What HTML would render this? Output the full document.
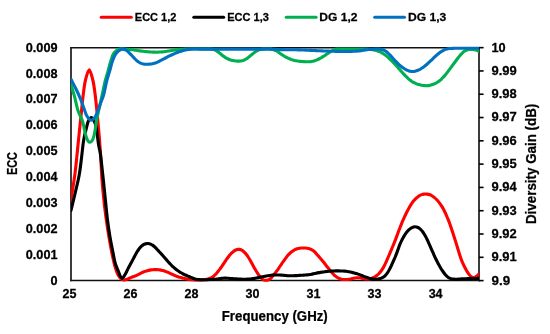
<!DOCTYPE html>
<html><head><meta charset="utf-8"><style>
html,body{margin:0;padding:0;background:#fff;}
svg{display:block;}
.t{font-family:'Liberation Sans',sans-serif;font-weight:bold;stroke:#000;stroke-width:0.25px;font-size:12px;fill:#000;}
.lg{font-family:'Liberation Sans',sans-serif;font-weight:bold;stroke:#000;stroke-width:0.25px;font-size:11.6px;fill:#000;}
.ti{font-family:'Liberation Sans',sans-serif;font-weight:bold;stroke:#000;stroke-width:0.25px;font-size:13.8px;fill:#000;}
</style></head><body>
<svg width="550" height="334" viewBox="0 0 550 334">
<rect width="550" height="334" fill="#fff"/>
<defs><clipPath id="pa"><rect x="71" y="45" width="408" height="238"/></clipPath></defs>
<path d="M70.15,47.65 H479.85 M70.15,280.6 H479.85" stroke="#111" stroke-width="1.5" fill="none"/>
<path d="M71,46.9 V281.35 M479,46.9 V281.35" stroke="#1a1a1a" stroke-width="1.7" fill="none"/>
<g clip-path="url(#pa)">
<path d="M71.00,199.50 C72.27,191.33 73.64,183.91 74.80,175.00 C76.18,164.39 77.35,151.02 78.50,140.00 C79.53,130.15 80.54,120.17 81.40,112.00 C82.07,105.63 82.49,100.48 83.20,95.00 C83.87,89.84 84.36,84.47 85.50,80.00 C86.47,76.22 87.98,69.79 89.20,69.80 C90.42,69.81 91.84,76.23 92.80,80.00 C93.94,84.47 94.51,89.83 95.20,95.00 C95.93,100.48 96.40,105.90 97.00,112.00 C97.70,119.09 98.48,127.60 99.10,135.00 C99.67,141.90 100.14,147.96 100.60,155.00 C101.12,162.87 101.37,171.67 102.00,180.00 C102.63,188.34 103.46,196.85 104.40,205.00 C105.30,212.84 106.47,221.16 107.50,228.00 C108.33,233.54 109.14,238.18 110.00,243.00 C110.81,247.49 111.62,251.91 112.50,256.00 C113.29,259.70 113.99,263.18 115.00,266.50 C115.94,269.59 117.00,273.02 118.30,275.30 C119.26,276.99 120.37,278.59 121.50,279.30 C122.30,279.81 123.27,279.84 124.00,279.89 C124.56,279.92 125.01,279.83 125.50,279.73 C126.01,279.62 126.50,279.43 127.00,279.25 C127.50,279.07 128.00,278.84 128.50,278.63 C129.00,278.41 129.50,278.19 130.00,277.98 C130.50,277.77 131.00,277.56 131.50,277.36 C132.00,277.16 132.50,276.97 133.00,276.78 C133.50,276.58 134.00,276.39 134.50,276.19 C135.00,275.98 135.50,275.78 136.00,275.56 C136.50,275.35 137.00,275.12 137.50,274.89 C138.00,274.65 138.50,274.40 139.00,274.16 C139.50,273.91 140.00,273.65 140.50,273.40 C141.00,273.15 141.50,272.90 142.00,272.67 C142.50,272.44 143.00,272.22 143.50,272.01 C144.00,271.80 144.50,271.61 145.00,271.42 C145.50,271.24 146.00,271.06 146.50,270.90 C147.00,270.75 147.50,270.60 148.00,270.47 C148.50,270.34 149.00,270.22 149.50,270.13 C150.00,270.03 150.50,269.95 151.00,269.89 C151.50,269.82 152.00,269.77 152.50,269.73 C153.00,269.69 153.50,269.67 154.00,269.65 C154.50,269.63 155.00,269.62 155.50,269.62 C156.00,269.62 156.50,269.62 157.00,269.64 C157.50,269.66 158.00,269.69 158.50,269.74 C159.00,269.78 159.50,269.84 160.00,269.91 C160.50,269.99 161.00,270.08 161.50,270.19 C162.00,270.30 162.50,270.43 163.00,270.57 C163.50,270.71 164.00,270.87 164.50,271.03 C165.00,271.20 165.50,271.38 166.00,271.58 C166.50,271.77 167.00,271.98 167.50,272.19 C168.00,272.41 168.50,272.64 169.00,272.87 C169.50,273.10 170.00,273.34 170.50,273.57 C171.00,273.81 171.50,274.04 172.00,274.27 C172.50,274.50 173.00,274.73 173.50,274.96 C174.00,275.18 174.50,275.40 175.00,275.61 C175.50,275.81 176.00,276.01 176.50,276.20 C177.00,276.38 177.50,276.55 178.00,276.71 C178.50,276.87 179.00,277.02 179.50,277.17 C180.00,277.31 180.50,277.45 181.00,277.59 C181.50,277.72 182.00,277.85 182.50,277.98 C183.00,278.11 183.50,278.23 184.00,278.35 C184.50,278.47 185.00,278.58 185.50,278.68 C186.00,278.79 186.50,278.88 187.00,278.98 C187.50,279.07 188.00,279.16 188.50,279.24 C189.00,279.32 189.50,279.39 190.00,279.46 C190.50,279.52 191.00,279.58 191.50,279.63 C192.00,279.68 192.50,279.72 193.00,279.76 C193.50,279.79 194.00,279.82 194.50,279.85 C195.00,279.87 195.50,279.89 196.00,279.90 C196.50,279.92 197.00,279.93 197.50,279.93 C198.00,279.93 198.50,279.94 199.00,279.93 C199.50,279.93 200.00,279.92 200.50,279.91 C201.00,279.89 201.50,279.88 202.00,279.85 C202.50,279.83 203.00,279.81 203.50,279.77 C204.00,279.73 204.50,279.68 205.00,279.61 C205.50,279.55 206.00,279.46 206.50,279.36 C207.00,279.25 207.50,279.13 208.00,278.99 C208.50,278.84 209.00,278.68 209.50,278.49 C210.00,278.30 210.51,278.09 211.00,277.84 C211.51,277.58 212.01,277.29 212.50,276.96 C213.01,276.62 213.51,276.23 214.00,275.80 C214.51,275.36 215.01,274.86 215.50,274.35 C216.01,273.82 216.51,273.25 217.00,272.67 C217.51,272.08 218.00,271.47 218.50,270.85 C219.01,270.22 219.51,269.58 220.00,268.91 C220.51,268.24 221.00,267.54 221.50,266.84 C222.00,266.13 222.50,265.40 223.00,264.66 C223.50,263.92 224.00,263.16 224.50,262.41 C225.00,261.65 225.50,260.89 226.00,260.15 C226.50,259.43 226.99,258.71 227.50,258.02 C227.99,257.34 228.49,256.67 229.00,256.04 C229.49,255.42 229.99,254.82 230.50,254.26 C230.99,253.72 231.49,253.20 232.00,252.72 C232.49,252.26 232.99,251.82 233.50,251.43 C233.99,251.05 234.49,250.70 235.00,250.41 C235.49,250.14 235.99,249.90 236.50,249.72 C236.99,249.55 237.50,249.43 238.00,249.37 C238.50,249.32 239.00,249.32 239.50,249.39 C240.00,249.46 240.51,249.61 241.00,249.80 C241.51,250.00 242.01,250.28 242.50,250.60 C243.02,250.94 243.52,251.34 244.00,251.79 C244.52,252.26 245.01,252.80 245.50,253.37 C246.01,253.96 246.51,254.61 247.00,255.28 C247.51,255.98 248.01,256.71 248.50,257.48 C249.01,258.27 249.51,259.11 250.00,259.96 C250.51,260.84 251.00,261.76 251.50,262.66 C252.00,263.58 252.50,264.51 253.00,265.43 C253.50,266.34 254.00,267.25 254.50,268.14 C255.00,269.02 255.49,269.89 256.00,270.74 C256.49,271.57 256.99,272.40 257.50,273.19 C257.99,273.96 258.49,274.72 259.00,275.42 C259.49,276.10 259.98,276.76 260.50,277.34 C260.98,277.89 261.48,278.43 262.00,278.85 C262.48,279.24 262.98,279.58 263.50,279.82 C263.98,280.04 264.49,280.17 265.00,280.25 C265.50,280.32 266.00,280.32 266.50,280.28 C267.00,280.24 267.51,280.14 268.00,279.98 C268.51,279.82 269.02,279.58 269.50,279.28 C270.02,278.95 270.52,278.50 271.00,278.03 C271.52,277.53 272.01,276.92 272.50,276.33 C273.01,275.73 273.50,275.10 274.00,274.48 C274.50,273.85 275.00,273.24 275.50,272.61 C276.00,271.96 276.51,271.32 277.00,270.64 C277.51,269.95 278.00,269.24 278.50,268.51 C279.00,267.77 279.50,267.01 280.00,266.26 C280.50,265.51 281.00,264.76 281.50,264.03 C282.00,263.30 282.50,262.59 283.00,261.89 C283.50,261.19 284.00,260.50 284.50,259.81 C285.00,259.13 285.50,258.44 286.00,257.78 C286.50,257.13 286.99,256.47 287.50,255.86 C287.99,255.27 288.49,254.70 289.00,254.18 C289.49,253.67 289.99,253.20 290.50,252.75 C290.99,252.33 291.49,251.93 292.00,251.56 C292.49,251.20 292.99,250.87 293.50,250.56 C293.99,250.25 294.49,249.97 295.00,249.72 C295.49,249.48 296.00,249.26 296.50,249.06 C297.00,248.88 297.50,248.72 298.00,248.58 C298.50,248.44 299.00,248.33 299.50,248.24 C300.00,248.15 300.50,248.08 301.00,248.03 C301.50,247.98 302.00,247.95 302.50,247.94 C303.00,247.92 303.50,247.93 304.00,247.95 C304.50,247.97 305.00,248.00 305.50,248.04 C306.00,248.09 306.50,248.14 307.00,248.22 C307.50,248.29 308.00,248.38 308.50,248.49 C309.00,248.61 309.51,248.75 310.00,248.92 C310.51,249.10 311.01,249.31 311.50,249.56 C312.01,249.82 312.51,250.11 313.00,250.47 C313.52,250.84 314.01,251.28 314.50,251.74 C315.01,252.23 315.50,252.80 316.00,253.34 C316.50,253.90 317.00,254.49 317.50,255.05 C318.00,255.62 318.50,256.18 319.00,256.75 C319.50,257.31 320.00,257.87 320.50,258.44 C321.00,259.02 321.50,259.60 322.00,260.19 C322.50,260.79 323.00,261.40 323.50,262.02 C324.00,262.66 324.50,263.32 325.00,263.97 C325.50,264.63 326.00,265.30 326.50,265.95 C327.00,266.59 327.50,267.22 328.00,267.84 C328.50,268.46 329.00,269.05 329.50,269.64 C330.00,270.24 330.50,270.83 331.00,271.42 C331.50,272.01 331.99,272.61 332.50,273.18 C332.99,273.73 333.49,274.28 334.00,274.79 C334.49,275.28 334.99,275.75 335.50,276.18 C335.99,276.58 336.49,276.96 337.00,277.28 C337.49,277.60 337.99,277.87 338.50,278.11 C338.99,278.34 339.50,278.54 340.00,278.71 C340.50,278.88 341.00,279.02 341.50,279.14 C342.00,279.26 342.50,279.35 343.00,279.42 C343.50,279.49 344.00,279.53 344.50,279.55 C345.00,279.57 345.50,279.57 346.00,279.55 C346.50,279.54 347.00,279.50 347.50,279.45 C348.00,279.40 348.50,279.33 349.00,279.24 C349.50,279.16 350.00,279.05 350.50,278.94 C351.00,278.83 351.50,278.69 352.00,278.56 C352.50,278.44 353.00,278.30 353.50,278.20 C354.00,278.09 354.50,278.00 355.00,277.93 C355.50,277.86 356.00,277.80 356.50,277.77 C357.00,277.73 357.50,277.71 358.00,277.72 C358.50,277.72 359.00,277.75 359.50,277.80 C360.00,277.86 360.50,277.95 361.00,278.04 C361.50,278.14 362.00,278.27 362.50,278.38 C363.00,278.48 363.50,278.60 364.00,278.69 C364.50,278.77 365.00,278.85 365.50,278.91 C366.00,278.97 366.50,279.01 367.00,279.03 C367.50,279.05 368.00,279.05 368.50,279.01 C369.00,278.98 369.50,278.91 370.00,278.80 C370.50,278.70 371.00,278.55 371.50,278.38 C372.00,278.21 372.51,278.00 373.00,277.77 C373.51,277.53 374.01,277.27 374.50,276.99 C375.01,276.69 375.51,276.38 376.00,276.03 C376.51,275.68 377.01,275.29 377.50,274.88 C378.01,274.44 378.51,273.98 379.00,273.47 C379.51,272.95 380.01,272.38 380.50,271.77 C381.01,271.13 381.51,270.44 382.00,269.71 C382.52,268.95 383.01,268.13 383.50,267.28 C384.02,266.37 384.51,265.40 385.00,264.42 C385.51,263.38 386.01,262.28 386.50,261.18 C387.01,260.06 387.50,258.90 388.00,257.74 C388.50,256.57 389.00,255.39 389.50,254.21 C390.00,253.02 390.50,251.82 391.00,250.62 C391.50,249.42 392.00,248.22 392.50,247.01 C393.00,245.80 393.50,244.59 394.00,243.36 C394.50,242.11 395.00,240.84 395.50,239.56 C396.00,238.25 396.50,236.92 397.00,235.59 C397.50,234.24 398.00,232.88 398.50,231.54 C399.00,230.22 399.49,228.89 400.00,227.59 C400.50,226.31 400.99,225.05 401.50,223.81 C401.99,222.60 402.49,221.41 403.00,220.24 C403.49,219.10 403.99,217.98 404.50,216.88 C404.99,215.81 405.49,214.76 406.00,213.74 C406.49,212.73 406.99,211.75 407.50,210.78 C407.99,209.83 408.49,208.89 409.00,207.97 C409.49,207.09 409.99,206.21 410.50,205.38 C410.99,204.58 411.49,203.80 412.00,203.07 C412.49,202.38 412.99,201.73 413.50,201.10 C413.99,200.51 414.49,199.95 415.00,199.41 C415.49,198.90 415.99,198.41 416.50,197.96 C416.99,197.52 417.49,197.10 418.00,196.71 C418.49,196.34 418.99,195.99 419.50,195.68 C419.99,195.39 420.49,195.12 421.00,194.90 C421.49,194.69 421.99,194.52 422.50,194.38 C423.00,194.26 423.50,194.17 424.00,194.12 C424.50,194.06 425.00,194.04 425.50,194.04 C426.00,194.05 426.50,194.07 427.00,194.13 C427.50,194.18 428.00,194.26 428.50,194.37 C429.00,194.49 429.51,194.63 430.00,194.82 C430.51,195.01 431.01,195.24 431.50,195.51 C432.01,195.79 432.51,196.11 433.00,196.46 C433.51,196.81 434.01,197.21 434.50,197.62 C435.01,198.05 435.51,198.51 436.00,198.99 C436.51,199.49 437.01,200.01 437.50,200.56 C438.01,201.13 438.51,201.73 439.00,202.35 C439.51,203.00 440.01,203.68 440.50,204.38 C441.01,205.12 441.51,205.88 442.00,206.68 C442.51,207.51 443.01,208.38 443.50,209.28 C444.01,210.24 444.51,211.24 445.00,212.26 C445.51,213.33 446.01,214.44 446.50,215.56 C447.01,216.73 447.51,217.91 448.00,219.13 C448.51,220.41 449.01,221.71 449.50,223.06 C450.01,224.46 450.50,225.91 451.00,227.37 C451.50,228.85 452.00,230.36 452.50,231.86 C453.00,233.37 453.50,234.88 454.00,236.41 C454.50,237.96 455.00,239.52 455.50,241.10 C456.01,242.71 456.50,244.36 457.00,246.00 C457.50,247.65 458.00,249.34 458.50,250.99 C459.00,252.61 459.49,254.25 460.00,255.81 C460.49,257.28 460.98,258.74 461.50,260.10 C461.98,261.35 462.48,262.53 463.00,263.66 C463.49,264.73 463.99,265.73 464.50,266.73 C464.99,267.70 465.49,268.64 466.00,269.57 C466.49,270.46 466.98,271.36 467.50,272.19 C467.99,272.98 468.48,273.75 469.00,274.43 C469.48,275.05 469.97,275.65 470.50,276.14 C470.98,276.57 471.47,276.99 472.00,277.24 C472.48,277.47 473.00,277.61 473.50,277.61 C474.00,277.61 474.52,277.43 475.00,277.22 C475.52,276.99 476.01,276.61 476.50,276.24 C477.02,275.84 477.56,275.31 478.00,274.89 C478.37,274.54 478.67,274.23 479.00,273.90" fill="none" stroke="#FF0000" stroke-width="3.1" stroke-linejoin="round" stroke-linecap="round"/>
<path d="M71.00,210.50 C72.40,204.67 73.84,198.88 75.20,193.00 C76.58,187.05 78.14,180.94 79.20,175.00 C80.22,169.27 80.76,163.75 81.50,158.00 C82.26,152.09 82.76,145.43 83.70,140.00 C84.49,135.43 85.58,131.01 86.50,127.50 C87.18,124.91 87.54,122.57 88.50,120.80 C89.25,119.41 90.37,117.50 91.30,117.50 C92.23,117.50 93.34,119.41 94.10,120.80 C95.07,122.57 95.58,124.71 96.20,127.50 C97.19,131.93 97.81,140.49 98.60,145.00 C99.10,147.87 99.60,148.98 100.10,152.00 C101.00,157.44 101.93,167.17 102.80,175.00 C103.70,183.16 104.58,192.13 105.40,200.00 C106.14,207.04 106.70,213.61 107.50,220.00 C108.24,225.90 109.08,231.57 110.00,237.00 C110.86,242.04 111.88,246.90 112.80,251.50 C113.64,255.69 114.24,259.97 115.30,263.50 C116.18,266.42 117.50,268.98 118.40,271.30 C119.12,273.15 119.53,275.04 120.30,276.30 C120.86,277.22 121.58,278.41 122.20,278.40 C122.81,278.39 123.45,277.04 124.00,276.29 C124.56,275.53 125.02,274.71 125.50,273.84 C126.02,272.89 126.50,271.82 127.00,270.80 C127.50,269.79 127.99,268.77 128.50,267.78 C128.99,266.81 129.50,265.86 130.00,264.92 C130.50,263.99 131.00,263.08 131.50,262.15 C132.00,261.22 132.50,260.29 133.00,259.36 C133.50,258.41 134.00,257.44 134.50,256.49 C135.00,255.55 135.49,254.60 136.00,253.70 C136.49,252.83 136.99,251.97 137.50,251.17 C137.99,250.40 138.48,249.66 139.00,248.98 C139.49,248.33 139.98,247.73 140.50,247.18 C140.99,246.66 141.49,246.19 142.00,245.77 C142.49,245.37 142.99,245.00 143.50,244.70 C143.99,244.41 144.49,244.15 145.00,243.97 C145.49,243.79 146.00,243.66 146.50,243.59 C147.00,243.52 147.50,243.50 148.00,243.53 C148.50,243.56 149.01,243.64 149.50,243.77 C150.01,243.89 150.51,244.07 151.00,244.29 C151.51,244.51 152.01,244.79 152.50,245.12 C153.01,245.46 153.51,245.87 154.00,246.29 C154.51,246.74 155.00,247.24 155.50,247.73 C156.00,248.23 156.50,248.76 157.00,249.28 C157.50,249.80 158.00,250.34 158.50,250.87 C159.00,251.41 159.50,251.96 160.00,252.50 C160.50,253.05 161.00,253.60 161.50,254.15 C162.00,254.71 162.50,255.27 163.00,255.83 C163.50,256.40 164.00,256.96 164.50,257.53 C165.00,258.10 165.50,258.67 166.00,259.25 C166.50,259.82 167.00,260.41 167.50,260.98 C168.00,261.55 168.50,262.11 169.00,262.67 C169.50,263.21 170.00,263.75 170.50,264.27 C171.00,264.78 171.50,265.28 172.00,265.77 C172.50,266.25 173.00,266.72 173.50,267.18 C174.00,267.63 174.50,268.07 175.00,268.49 C175.50,268.90 176.00,269.31 176.50,269.70 C177.00,270.08 177.50,270.45 178.00,270.81 C178.50,271.16 179.00,271.49 179.50,271.82 C180.00,272.13 180.50,272.43 181.00,272.72 C181.50,273.01 182.00,273.27 182.50,273.53 C183.00,273.79 183.50,274.04 184.00,274.28 C184.50,274.52 185.00,274.76 185.50,274.99 C186.00,275.22 186.50,275.44 187.00,275.66 C187.50,275.89 188.00,276.10 188.50,276.32 C189.00,276.54 189.50,276.75 190.00,276.98 C190.50,277.20 191.00,277.43 191.50,277.65 C192.00,277.87 192.50,278.10 193.00,278.29 C193.50,278.49 194.00,278.66 194.50,278.82 C195.00,278.96 195.50,279.09 196.00,279.19 C196.50,279.30 197.00,279.38 197.50,279.46 C198.00,279.53 198.50,279.59 199.00,279.64 C199.50,279.69 200.00,279.73 200.50,279.75 C201.00,279.78 201.50,279.79 202.00,279.80 C202.50,279.81 203.00,279.81 203.50,279.80 C204.00,279.80 204.50,279.79 205.00,279.77 C205.50,279.76 206.00,279.74 206.50,279.72 C207.00,279.69 207.50,279.67 208.00,279.64 C208.50,279.61 209.00,279.58 209.50,279.56 C210.00,279.53 210.50,279.51 211.00,279.49 C211.50,279.46 212.00,279.45 212.50,279.42 C213.00,279.40 213.50,279.39 214.00,279.36 C214.50,279.33 215.00,279.31 215.50,279.27 C216.00,279.23 216.50,279.18 217.00,279.12 C217.50,279.06 218.00,278.98 218.50,278.91 C219.00,278.83 219.50,278.74 220.00,278.65 C220.50,278.57 221.00,278.48 221.50,278.41 C222.00,278.34 222.50,278.27 223.00,278.22 C223.50,278.18 224.00,278.15 224.50,278.13 C225.00,278.12 225.50,278.13 226.00,278.14 C226.50,278.16 227.00,278.19 227.50,278.22 C228.00,278.26 228.50,278.30 229.00,278.34 C229.50,278.39 230.00,278.43 230.50,278.47 C231.00,278.52 231.50,278.56 232.00,278.59 C232.50,278.63 233.00,278.66 233.50,278.70 C234.00,278.73 234.50,278.77 235.00,278.80 C235.50,278.84 236.00,278.87 236.50,278.90 C237.00,278.93 237.50,278.96 238.00,278.99 C238.50,279.02 239.00,279.05 239.50,279.07 C240.00,279.09 240.50,279.12 241.00,279.13 C241.50,279.15 242.00,279.17 242.50,279.18 C243.00,279.19 243.50,279.20 244.00,279.20 C244.50,279.21 245.00,279.20 245.50,279.20 C246.00,279.19 246.50,279.17 247.00,279.16 C247.50,279.14 248.00,279.11 248.50,279.08 C249.00,279.05 249.50,279.02 250.00,278.98 C250.50,278.94 251.00,278.89 251.50,278.84 C252.00,278.78 252.50,278.72 253.00,278.64 C253.50,278.57 254.00,278.49 254.50,278.40 C255.00,278.31 255.50,278.20 256.00,278.10 C256.50,278.00 257.00,277.89 257.50,277.78 C258.00,277.67 258.50,277.56 259.00,277.45 C259.50,277.34 260.00,277.24 260.50,277.13 C261.00,277.02 261.50,276.91 262.00,276.81 C262.50,276.70 263.00,276.59 263.50,276.49 C264.00,276.38 264.50,276.28 265.00,276.18 C265.50,276.09 266.00,276.00 266.50,275.92 C267.00,275.83 267.50,275.76 268.00,275.68 C268.50,275.61 269.00,275.54 269.50,275.48 C270.00,275.42 270.50,275.36 271.00,275.31 C271.50,275.26 272.00,275.21 272.50,275.17 C273.00,275.13 273.50,275.10 274.00,275.07 C274.50,275.04 275.00,275.02 275.50,275.01 C276.00,274.99 276.50,274.98 277.00,274.97 C277.50,274.97 278.00,274.97 278.50,274.98 C279.00,274.99 279.50,275.00 280.00,275.02 C280.50,275.05 281.00,275.08 281.50,275.11 C282.00,275.15 282.50,275.20 283.00,275.25 C283.50,275.30 284.00,275.35 284.50,275.41 C285.00,275.46 285.50,275.51 286.00,275.56 C286.50,275.60 287.00,275.65 287.50,275.68 C288.00,275.72 288.50,275.74 289.00,275.76 C289.50,275.78 290.00,275.79 290.50,275.79 C291.00,275.79 291.50,275.79 292.00,275.78 C292.50,275.77 293.00,275.75 293.50,275.73 C294.00,275.71 294.50,275.69 295.00,275.66 C295.50,275.64 296.00,275.61 296.50,275.58 C297.00,275.55 297.50,275.52 298.00,275.49 C298.50,275.45 299.00,275.42 299.50,275.39 C300.00,275.35 300.50,275.32 301.00,275.29 C301.50,275.26 302.00,275.22 302.50,275.19 C303.00,275.16 303.50,275.13 304.00,275.09 C304.50,275.05 305.00,275.02 305.50,274.98 C306.00,274.94 306.50,274.90 307.00,274.85 C307.50,274.80 308.00,274.74 308.50,274.68 C309.00,274.62 309.50,274.55 310.00,274.47 C310.50,274.39 311.00,274.30 311.50,274.20 C312.00,274.10 312.50,273.99 313.00,273.87 C313.50,273.76 314.00,273.64 314.50,273.52 C315.00,273.41 315.50,273.29 316.00,273.19 C316.50,273.08 317.00,272.98 317.50,272.88 C318.00,272.79 318.50,272.70 319.00,272.62 C319.50,272.53 320.00,272.45 320.50,272.37 C321.00,272.30 321.50,272.22 322.00,272.15 C322.50,272.07 323.00,272.00 323.50,271.93 C324.00,271.86 324.50,271.79 325.00,271.72 C325.50,271.66 326.00,271.59 326.50,271.53 C327.00,271.47 327.50,271.40 328.00,271.35 C328.50,271.30 329.00,271.24 329.50,271.20 C330.00,271.15 330.50,271.11 331.00,271.08 C331.50,271.05 332.00,271.02 332.50,271.00 C333.00,270.98 333.50,270.96 334.00,270.95 C334.50,270.93 335.00,270.92 335.50,270.92 C336.00,270.91 336.50,270.91 337.00,270.91 C337.50,270.91 338.00,270.91 338.50,270.91 C339.00,270.92 339.50,270.92 340.00,270.94 C340.50,270.95 341.00,270.96 341.50,270.98 C342.00,271.00 342.50,271.02 343.00,271.05 C343.50,271.08 344.00,271.12 344.50,271.16 C345.00,271.20 345.50,271.26 346.00,271.32 C346.50,271.38 347.00,271.45 347.50,271.52 C348.00,271.60 348.50,271.68 349.00,271.77 C349.50,271.86 350.00,271.96 350.50,272.06 C351.00,272.16 351.50,272.26 352.00,272.38 C352.50,272.49 353.00,272.61 353.50,272.74 C354.00,272.87 354.50,273.00 355.00,273.15 C355.50,273.29 356.00,273.44 356.50,273.60 C357.00,273.76 357.50,273.93 358.00,274.10 C358.50,274.27 359.00,274.44 359.50,274.62 C360.00,274.81 360.50,274.99 361.00,275.18 C361.50,275.37 362.00,275.57 362.50,275.77 C363.00,275.97 363.50,276.18 364.00,276.38 C364.50,276.57 365.00,276.77 365.50,276.95 C366.00,277.13 366.50,277.31 367.00,277.48 C367.50,277.64 368.00,277.80 368.50,277.95 C369.00,278.10 369.50,278.24 370.00,278.38 C370.50,278.51 371.00,278.64 371.50,278.75 C372.00,278.87 372.50,278.97 373.00,279.06 C373.50,279.14 374.00,279.22 374.50,279.26 C375.00,279.30 375.50,279.32 376.00,279.30 C376.50,279.29 377.00,279.23 377.50,279.16 C378.00,279.08 378.50,278.97 379.00,278.85 C379.50,278.73 380.00,278.60 380.50,278.44 C381.00,278.28 381.51,278.11 382.00,277.89 C382.51,277.66 383.01,277.39 383.50,277.06 C384.02,276.71 384.52,276.30 385.00,275.83 C385.52,275.33 386.02,274.76 386.50,274.15 C387.02,273.49 387.52,272.77 388.00,272.01 C388.52,271.19 389.01,270.29 389.50,269.37 C390.02,268.39 390.51,267.34 391.00,266.31 C391.51,265.24 392.00,264.15 392.50,263.06 C393.00,261.95 393.51,260.86 394.00,259.73 C394.51,258.58 395.01,257.42 395.50,256.22 C396.01,254.97 396.51,253.67 397.00,252.35 C397.51,250.99 397.99,249.55 398.50,248.17 C398.99,246.83 399.48,245.46 400.00,244.20 C400.48,243.01 400.98,241.88 401.50,240.81 C401.98,239.80 402.49,238.85 403.00,237.93 C403.49,237.05 403.99,236.21 404.50,235.40 C404.99,234.62 405.49,233.86 406.00,233.14 C406.49,232.47 406.98,231.81 407.50,231.21 C407.99,230.65 408.48,230.13 409.00,229.66 C409.49,229.21 409.99,228.81 410.50,228.46 C410.99,228.12 411.49,227.81 412.00,227.56 C412.49,227.32 412.99,227.10 413.50,226.97 C413.99,226.84 414.50,226.77 415.00,226.76 C415.50,226.76 416.01,226.82 416.50,226.94 C417.01,227.06 417.51,227.25 418.00,227.48 C418.51,227.73 419.02,228.04 419.50,228.39 C420.02,228.78 420.52,229.24 421.00,229.74 C421.52,230.28 422.02,230.89 422.50,231.54 C423.02,232.22 423.51,232.97 424.00,233.74 C424.51,234.56 425.01,235.43 425.50,236.33 C426.01,237.27 426.51,238.27 427.00,239.29 C427.51,240.34 428.00,241.44 428.50,242.53 C429.00,243.64 429.50,244.76 430.00,245.88 C430.50,247.01 431.00,248.14 431.50,249.27 C432.00,250.40 432.50,251.55 433.00,252.69 C433.50,253.82 433.99,254.95 434.50,256.06 C434.99,257.15 435.49,258.23 436.00,259.28 C436.49,260.30 436.99,261.30 437.50,262.28 C437.99,263.24 438.49,264.18 439.00,265.09 C439.49,265.98 439.99,266.86 440.50,267.70 C440.99,268.52 441.49,269.31 442.00,270.08 C442.49,270.83 442.99,271.56 443.50,272.26 C443.99,272.94 444.49,273.62 445.00,274.24 C445.49,274.84 445.98,275.42 446.50,275.94 C446.98,276.41 447.48,276.86 448.00,277.23 C448.48,277.58 448.99,277.87 449.50,278.11 C449.99,278.33 450.50,278.50 451.00,278.64 C451.50,278.78 452.00,278.87 452.50,278.95 C453.00,279.03 453.50,279.08 454.00,279.13 C454.50,279.17 455.00,279.20 455.50,279.21 C456.00,279.23 456.50,279.22 457.00,279.20 C457.50,279.19 458.00,279.16 458.50,279.12 C459.00,279.09 459.50,279.04 460.00,279.01 C460.50,278.97 461.00,278.93 461.50,278.90 C462.00,278.86 462.50,278.84 463.00,278.81 C463.50,278.79 464.00,278.77 464.50,278.75 C465.00,278.74 465.50,278.72 466.00,278.71 C466.50,278.69 467.00,278.68 467.50,278.67 C468.00,278.65 468.50,278.64 469.00,278.63 C469.50,278.62 470.00,278.61 470.50,278.59 C471.00,278.58 471.50,278.57 472.00,278.56 C472.50,278.55 473.00,278.54 473.50,278.53 C474.00,278.52 474.50,278.50 475.00,278.49 C475.50,278.48 476.00,278.47 476.50,278.46 C477.00,278.45 477.55,278.43 478.00,278.42 C478.37,278.42 478.67,278.41 479.00,278.40" fill="none" stroke="#000000" stroke-width="3.1" stroke-linejoin="round" stroke-linecap="round"/>
<path d="M71.00,84.50 C72.17,88.47 73.40,92.30 74.50,96.40 C75.67,100.75 76.40,105.62 77.80,109.90 C79.13,113.97 81.47,117.95 82.60,121.50 C83.51,124.37 83.80,126.92 84.40,129.50 C84.96,131.91 85.42,134.46 86.10,136.50 C86.66,138.16 87.19,139.91 88.00,140.90 C88.58,141.61 89.33,142.30 90.00,142.30 C90.67,142.30 91.43,141.61 92.00,140.90 C92.79,139.91 93.30,138.16 93.80,136.50 C94.41,134.46 94.79,131.92 95.20,129.50 C95.63,126.93 95.78,124.43 96.30,121.50 C96.94,117.89 98.08,113.27 98.90,109.50 C99.63,106.15 100.29,103.21 101.00,100.00 C101.73,96.71 102.48,93.25 103.20,90.00 C103.88,86.92 104.41,84.10 105.20,81.00 C106.06,77.62 107.24,73.92 108.20,70.50 C109.11,67.26 109.79,64.00 110.80,61.00 C111.74,58.19 112.46,55.03 114.00,53.00 C115.32,51.26 117.46,49.77 119.00,49.18 C120.06,48.77 121.17,48.95 122.00,48.93 C122.59,48.92 123.00,48.96 123.50,48.99 C124.00,49.02 124.50,49.05 125.00,49.08 C125.50,49.12 126.00,49.15 126.50,49.18 C127.00,49.22 127.50,49.25 128.00,49.30 C128.50,49.34 129.00,49.39 129.50,49.43 C130.00,49.48 130.50,49.54 131.00,49.59 C131.50,49.65 132.00,49.71 132.50,49.77 C133.00,49.84 133.50,49.90 134.00,49.98 C134.50,50.05 135.00,50.12 135.50,50.20 C136.00,50.28 136.50,50.36 137.00,50.44 C137.50,50.52 138.00,50.61 138.50,50.68 C139.00,50.76 139.50,50.84 140.00,50.91 C140.50,50.98 141.00,51.04 141.50,51.11 C142.00,51.17 142.50,51.23 143.00,51.28 C143.50,51.34 144.00,51.40 144.50,51.45 C145.00,51.50 145.50,51.55 146.00,51.60 C146.50,51.64 147.00,51.69 147.50,51.73 C148.00,51.77 148.50,51.81 149.00,51.85 C149.50,51.89 150.00,51.93 150.50,51.96 C151.00,51.99 151.50,52.03 152.00,52.06 C152.50,52.08 153.00,52.11 153.50,52.13 C154.00,52.15 154.50,52.16 155.00,52.17 C155.50,52.18 156.00,52.18 156.50,52.18 C157.00,52.17 157.50,52.16 158.00,52.14 C158.50,52.12 159.00,52.10 159.50,52.07 C160.00,52.04 160.50,52.00 161.00,51.97 C161.50,51.93 162.00,51.88 162.50,51.84 C163.00,51.79 163.50,51.74 164.00,51.68 C164.50,51.63 165.00,51.56 165.50,51.50 C166.00,51.43 166.50,51.36 167.00,51.29 C167.50,51.22 168.00,51.15 168.50,51.07 C169.00,50.99 169.50,50.91 170.00,50.83 C170.50,50.75 171.00,50.66 171.50,50.57 C172.00,50.49 172.50,50.40 173.00,50.31 C173.50,50.23 174.00,50.15 174.50,50.07 C175.00,50.00 175.50,49.93 176.00,49.86 C176.50,49.79 177.00,49.73 177.50,49.68 C178.00,49.62 178.50,49.57 179.00,49.52 C179.50,49.47 180.00,49.42 180.50,49.38 C181.00,49.34 181.50,49.30 182.00,49.27 C182.50,49.24 183.00,49.21 183.50,49.18 C184.00,49.16 184.50,49.14 185.00,49.12 C185.50,49.11 186.00,49.10 186.50,49.09 C187.00,49.08 187.50,49.07 188.00,49.07 C188.50,49.06 189.00,49.06 189.50,49.06 C190.00,49.06 190.50,49.06 191.00,49.06 C191.50,49.06 192.00,49.06 192.50,49.06 C193.00,49.06 193.50,49.06 194.00,49.06 C194.50,49.06 195.00,49.06 195.50,49.06 C196.00,49.06 196.50,49.05 197.00,49.05 C197.50,49.05 198.00,49.05 198.50,49.05 C199.00,49.04 199.50,49.04 200.00,49.04 C200.50,49.04 201.00,49.04 201.50,49.04 C202.00,49.04 202.50,49.04 203.00,49.04 C203.50,49.04 204.00,49.04 204.50,49.04 C205.00,49.05 205.50,49.05 206.00,49.05 C206.50,49.05 207.00,49.05 207.50,49.05 C208.00,49.05 208.50,49.03 209.00,49.04 C209.50,49.05 210.00,49.05 210.50,49.09 C211.00,49.13 211.50,49.18 212.00,49.27 C212.50,49.37 213.00,49.49 213.50,49.64 C214.00,49.80 214.51,49.99 215.00,50.20 C215.51,50.41 216.01,50.66 216.50,50.93 C217.01,51.22 217.51,51.54 218.00,51.88 C218.51,52.23 219.00,52.62 219.50,53.00 C220.00,53.39 220.50,53.81 221.00,54.21 C221.50,54.61 222.00,55.03 222.50,55.42 C223.00,55.82 223.50,56.21 224.00,56.58 C224.50,56.94 224.99,57.29 225.50,57.61 C225.99,57.92 226.49,58.22 227.00,58.49 C227.49,58.76 228.00,59.01 228.50,59.22 C229.00,59.44 229.50,59.63 230.00,59.79 C230.50,59.96 231.00,60.10 231.50,60.23 C232.00,60.36 232.50,60.47 233.00,60.57 C233.50,60.67 234.00,60.76 234.50,60.84 C235.00,60.92 235.50,60.99 236.00,61.04 C236.50,61.09 237.00,61.12 237.50,61.14 C238.00,61.16 238.50,61.16 239.00,61.14 C239.50,61.12 240.00,61.09 240.50,61.03 C241.00,60.97 241.50,60.90 242.00,60.79 C242.50,60.68 243.01,60.55 243.50,60.37 C244.01,60.18 244.51,59.96 245.00,59.70 C245.51,59.44 246.01,59.12 246.50,58.79 C247.01,58.46 247.50,58.08 248.00,57.71 C248.50,57.33 249.00,56.92 249.50,56.52 C250.00,56.11 250.50,55.68 251.00,55.26 C251.50,54.84 252.00,54.41 252.50,53.99 C253.00,53.59 253.50,53.18 254.00,52.80 C254.50,52.42 254.99,52.05 255.50,51.72 C255.99,51.39 256.49,51.08 257.00,50.81 C257.49,50.55 257.99,50.31 258.50,50.11 C258.99,49.92 259.50,49.75 260.00,49.62 C260.50,49.49 261.00,49.39 261.50,49.32 C262.00,49.24 262.50,49.20 263.00,49.17 C263.50,49.14 264.00,49.13 264.50,49.12 C265.00,49.11 265.50,49.11 266.00,49.10 C266.50,49.09 267.00,49.08 267.50,49.07 C268.00,49.06 268.50,49.04 269.00,49.04 C269.50,49.04 270.00,49.04 270.50,49.08 C271.00,49.12 271.50,49.18 272.00,49.27 C272.50,49.37 273.00,49.50 273.50,49.66 C274.00,49.82 274.51,50.01 275.00,50.23 C275.51,50.45 276.01,50.70 276.50,50.98 C277.01,51.26 277.50,51.58 278.00,51.91 C278.50,52.25 279.00,52.62 279.50,52.97 C280.00,53.33 280.50,53.69 281.00,54.04 C281.50,54.38 282.00,54.71 282.50,55.04 C283.00,55.36 283.50,55.67 284.00,55.97 C284.50,56.27 285.00,56.56 285.50,56.84 C286.00,57.11 286.50,57.38 287.00,57.64 C287.50,57.89 288.00,58.13 288.50,58.37 C289.00,58.60 289.50,58.82 290.00,59.03 C290.50,59.24 291.00,59.43 291.50,59.61 C292.00,59.79 292.50,59.94 293.00,60.09 C293.50,60.23 294.00,60.35 294.50,60.46 C295.00,60.57 295.50,60.67 296.00,60.76 C296.50,60.85 297.00,60.92 297.50,60.99 C298.00,61.07 298.50,61.13 299.00,61.18 C299.50,61.24 300.00,61.29 300.50,61.34 C301.00,61.39 301.50,61.44 302.00,61.48 C302.50,61.52 303.00,61.56 303.50,61.60 C304.00,61.63 304.50,61.67 305.00,61.70 C305.50,61.72 306.00,61.75 306.50,61.77 C307.00,61.79 307.50,61.81 308.00,61.81 C308.50,61.81 309.00,61.81 309.50,61.78 C310.00,61.75 310.50,61.70 311.00,61.63 C311.50,61.56 312.00,61.46 312.50,61.35 C313.00,61.24 313.50,61.10 314.00,60.96 C314.50,60.81 315.00,60.64 315.50,60.47 C316.00,60.29 316.50,60.10 317.00,59.89 C317.50,59.69 318.00,59.47 318.50,59.24 C319.00,59.00 319.50,58.75 320.00,58.49 C320.50,58.21 321.00,57.92 321.50,57.63 C322.00,57.32 322.50,57.00 323.00,56.68 C323.50,56.35 324.00,56.01 324.50,55.67 C325.00,55.33 325.50,54.98 326.00,54.64 C326.50,54.30 327.00,53.95 327.50,53.62 C328.00,53.28 328.50,52.95 329.00,52.63 C329.50,52.30 330.00,51.99 330.50,51.67 C331.00,51.36 331.50,51.05 332.00,50.76 C332.50,50.47 332.99,50.18 333.50,49.94 C333.99,49.71 334.49,49.50 335.00,49.36 C335.49,49.22 336.00,49.13 336.50,49.07 C337.00,49.01 337.50,49.01 338.00,48.99 C338.50,48.98 339.00,48.99 339.50,48.99 C340.00,48.99 340.50,48.99 341.00,48.99 C341.50,48.98 342.00,48.98 342.50,48.98 C343.00,48.98 343.50,48.98 344.00,48.98 C344.50,48.98 345.00,48.98 345.50,48.98 C346.00,48.99 346.50,48.99 347.00,48.99 C347.50,48.99 348.00,48.99 348.50,49.00 C349.00,49.00 349.50,49.00 350.00,49.00 C350.50,49.00 351.00,49.00 351.50,49.00 C352.00,49.00 352.50,48.99 353.00,48.99 C353.50,48.99 354.00,48.99 354.50,48.99 C355.00,48.98 355.50,48.98 356.00,48.98 C356.50,48.98 357.00,48.98 357.50,48.98 C358.00,48.98 358.50,48.98 359.00,48.98 C359.50,48.98 360.00,48.98 360.50,48.99 C361.00,48.99 361.50,49.00 362.00,49.00 C362.50,49.01 363.00,49.01 363.50,49.02 C364.00,49.03 364.50,49.04 365.00,49.05 C365.50,49.07 366.00,49.09 366.50,49.12 C367.00,49.14 367.50,49.18 368.00,49.22 C368.50,49.26 369.00,49.31 369.50,49.36 C370.00,49.42 370.50,49.48 371.00,49.54 C371.50,49.61 372.00,49.68 372.50,49.75 C373.00,49.83 373.50,49.92 374.00,50.01 C374.50,50.11 375.00,50.21 375.50,50.33 C376.00,50.45 376.50,50.58 377.00,50.73 C377.50,50.88 378.00,51.05 378.50,51.23 C379.00,51.42 379.50,51.63 380.00,51.86 C380.50,52.09 381.00,52.34 381.50,52.61 C382.00,52.89 382.50,53.18 383.00,53.49 C383.50,53.81 384.01,54.15 384.50,54.50 C385.01,54.86 385.51,55.24 386.00,55.64 C386.51,56.04 387.00,56.47 387.50,56.90 C388.00,57.34 388.50,57.80 389.00,58.27 C389.50,58.73 390.00,59.20 390.50,59.68 C391.00,60.17 391.50,60.65 392.00,61.15 C392.50,61.65 393.00,62.16 393.50,62.67 C394.00,63.20 394.50,63.73 395.00,64.26 C395.50,64.80 396.00,65.36 396.50,65.91 C397.00,66.47 397.50,67.04 398.00,67.61 C398.50,68.17 399.00,68.75 399.50,69.32 C400.00,69.88 400.50,70.46 401.00,71.02 C401.50,71.59 402.00,72.16 402.50,72.72 C403.00,73.27 403.50,73.82 404.00,74.36 C404.50,74.89 405.00,75.42 405.50,75.93 C406.00,76.44 406.50,76.94 407.00,77.43 C407.50,77.90 407.99,78.37 408.50,78.81 C408.99,79.24 409.49,79.66 410.00,80.06 C410.49,80.44 410.99,80.82 411.50,81.17 C411.99,81.51 412.49,81.83 413.00,82.13 C413.49,82.42 414.00,82.69 414.50,82.94 C415.00,83.18 415.50,83.40 416.00,83.61 C416.50,83.81 417.00,83.99 417.50,84.15 C418.00,84.32 418.50,84.47 419.00,84.61 C419.50,84.74 420.00,84.87 420.50,84.98 C421.00,85.09 421.50,85.19 422.00,85.28 C422.50,85.37 423.00,85.44 423.50,85.51 C424.00,85.57 424.50,85.62 425.00,85.66 C425.50,85.69 426.00,85.71 426.50,85.71 C427.00,85.70 427.50,85.67 428.00,85.62 C428.50,85.56 429.00,85.47 429.50,85.37 C430.00,85.26 430.50,85.12 431.00,84.98 C431.50,84.84 432.00,84.68 432.50,84.51 C433.00,84.34 433.50,84.17 434.00,83.97 C434.50,83.78 435.01,83.56 435.50,83.32 C436.01,83.08 436.51,82.81 437.00,82.52 C437.51,82.21 438.01,81.88 438.50,81.53 C439.01,81.16 439.51,80.77 440.00,80.36 C440.51,79.94 441.01,79.50 441.50,79.03 C442.01,78.56 442.51,78.05 443.00,77.53 C443.51,77.00 444.01,76.44 444.50,75.87 C445.01,75.28 445.50,74.68 446.00,74.07 C446.50,73.45 447.00,72.82 447.50,72.17 C448.00,71.51 448.50,70.84 449.00,70.16 C449.50,69.48 450.00,68.79 450.50,68.10 C451.00,67.41 451.50,66.72 452.00,66.04 C452.50,65.36 453.00,64.67 453.50,64.00 C454.00,63.32 454.50,62.64 455.00,61.97 C455.50,61.31 456.00,60.65 456.50,59.99 C457.00,59.33 457.50,58.68 458.00,58.03 C458.50,57.39 458.99,56.74 459.50,56.12 C459.99,55.52 460.49,54.91 461.00,54.35 C461.49,53.82 461.99,53.31 462.50,52.84 C462.99,52.39 463.49,51.97 464.00,51.60 C464.49,51.24 464.99,50.90 465.50,50.63 C465.99,50.36 466.49,50.13 467.00,49.95 C467.49,49.78 468.00,49.67 468.50,49.58 C469.00,49.50 469.50,49.47 470.00,49.44 C470.50,49.42 471.00,49.42 471.50,49.43 C472.00,49.44 472.50,49.46 473.00,49.50 C473.50,49.55 474.00,49.60 474.50,49.69 C475.00,49.78 475.51,49.89 476.00,50.05 C476.51,50.21 477.01,50.42 477.50,50.66 C478.01,50.90 478.50,51.22 479.00,51.50" fill="none" stroke="#00B050" stroke-width="3.1" stroke-linejoin="round" stroke-linecap="round"/>
<path d="M71.00,79.30 C72.67,82.53 74.40,85.69 76.00,89.00 C77.64,92.39 79.33,96.01 80.70,99.40 C81.97,102.53 82.89,105.68 84.00,108.60 C85.02,111.29 85.68,114.29 87.10,116.30 C88.29,117.99 90.08,120.23 91.50,120.20 C92.88,120.17 94.37,117.96 95.50,116.30 C96.88,114.27 97.72,111.15 98.70,108.60 C99.65,106.15 100.46,103.64 101.30,101.30 C102.09,99.12 102.86,97.54 103.60,95.00 C104.69,91.28 105.59,85.31 106.70,81.00 C107.67,77.23 108.81,73.91 109.80,70.50 C110.74,67.26 111.40,63.94 112.50,61.00 C113.50,58.31 114.40,55.49 116.00,53.50 C117.47,51.68 119.95,49.79 121.50,49.30 C122.43,49.00 123.28,49.26 124.00,49.39 C124.57,49.50 125.01,49.69 125.50,49.92 C126.01,50.17 126.51,50.51 127.00,50.86 C127.51,51.23 128.01,51.67 128.50,52.11 C129.01,52.57 129.51,53.06 130.00,53.57 C130.51,54.08 131.00,54.63 131.50,55.16 C132.00,55.70 132.50,56.26 133.00,56.80 C133.50,57.34 133.99,57.88 134.50,58.40 C135.00,58.90 135.49,59.41 136.00,59.88 C136.49,60.33 136.99,60.76 137.50,61.16 C137.99,61.54 138.49,61.90 139.00,62.22 C139.49,62.53 139.99,62.81 140.50,63.04 C140.99,63.27 141.50,63.46 142.00,63.62 C142.50,63.78 143.00,63.90 143.50,64.00 C144.00,64.10 144.50,64.17 145.00,64.22 C145.50,64.27 146.00,64.30 146.50,64.30 C147.00,64.31 147.50,64.29 148.00,64.26 C148.50,64.23 149.00,64.18 149.50,64.13 C150.00,64.07 150.50,64.00 151.00,63.92 C151.50,63.85 152.00,63.76 152.50,63.66 C153.00,63.56 153.50,63.46 154.00,63.33 C154.50,63.20 155.00,63.06 155.50,62.90 C156.00,62.73 156.50,62.54 157.00,62.33 C157.50,62.12 158.00,61.88 158.50,61.64 C159.00,61.39 159.50,61.13 160.00,60.87 C160.50,60.61 161.00,60.35 161.50,60.09 C162.00,59.83 162.50,59.57 163.00,59.31 C163.50,59.05 164.00,58.79 164.50,58.53 C165.00,58.27 165.50,58.01 166.00,57.76 C166.50,57.50 167.00,57.25 167.50,56.99 C168.00,56.74 168.50,56.49 169.00,56.23 C169.50,55.98 170.00,55.73 170.50,55.48 C171.00,55.23 171.50,54.99 172.00,54.75 C172.50,54.51 173.00,54.27 173.50,54.04 C174.00,53.81 174.50,53.59 175.00,53.37 C175.50,53.16 176.00,52.96 176.50,52.76 C177.00,52.56 177.50,52.37 178.00,52.18 C178.50,52.00 179.00,51.82 179.50,51.65 C180.00,51.49 180.50,51.32 181.00,51.17 C181.50,51.02 182.00,50.87 182.50,50.73 C183.00,50.60 183.50,50.47 184.00,50.34 C184.50,50.22 185.00,50.10 185.50,49.99 C186.00,49.89 186.50,49.79 187.00,49.69 C187.50,49.60 188.00,49.51 188.50,49.44 C189.00,49.36 189.50,49.30 190.00,49.24 C190.50,49.18 191.00,49.13 191.50,49.10 C192.00,49.06 192.50,49.04 193.00,49.02 C193.50,49.01 194.00,49.01 194.50,49.01 C195.00,49.01 195.50,49.02 196.00,49.03 C196.50,49.04 197.00,49.05 197.50,49.06 C198.00,49.07 198.50,49.08 199.00,49.09 C199.50,49.09 200.00,49.09 200.50,49.10 C201.00,49.10 201.50,49.10 202.00,49.10 C202.50,49.10 203.00,49.10 203.50,49.10 C204.00,49.10 204.50,49.10 205.00,49.10 C205.50,49.10 206.00,49.10 206.50,49.10 C207.00,49.10 207.50,49.10 208.00,49.10 C208.50,49.10 209.00,49.10 209.50,49.10 C210.00,49.10 210.50,49.10 211.00,49.10 C211.50,49.10 212.00,49.10 212.50,49.10 C213.00,49.10 213.50,49.10 214.00,49.10 C214.50,49.10 215.00,49.10 215.50,49.10 C216.00,49.10 216.50,49.10 217.00,49.10 C217.50,49.10 218.00,49.10 218.50,49.10 C219.00,49.10 219.50,49.10 220.00,49.10 C220.50,49.10 221.00,49.10 221.50,49.10 C222.00,49.10 222.50,49.10 223.00,49.10 C223.50,49.10 224.00,49.10 224.50,49.10 C225.00,49.10 225.50,49.10 226.00,49.10 C226.50,49.10 227.00,49.10 227.50,49.10 C228.00,49.10 228.50,49.10 229.00,49.10 C229.50,49.10 230.00,49.10 230.50,49.10 C231.00,49.10 231.50,49.10 232.00,49.10 C232.50,49.10 233.00,49.10 233.50,49.10 C234.00,49.10 234.50,49.10 235.00,49.10 C235.50,49.10 236.00,49.10 236.50,49.10 C237.00,49.10 237.50,49.10 238.00,49.10 C238.50,49.10 239.00,49.10 239.50,49.10 C240.00,49.10 240.50,49.10 241.00,49.10 C241.50,49.10 242.00,49.10 242.50,49.10 C243.00,49.10 243.50,49.10 244.00,49.10 C244.50,49.10 245.00,49.10 245.50,49.10 C246.00,49.10 246.50,49.10 247.00,49.10 C247.50,49.10 248.00,49.10 248.50,49.10 C249.00,49.10 249.50,49.10 250.00,49.10 C250.50,49.10 251.00,49.10 251.50,49.10 C252.00,49.10 252.50,49.10 253.00,49.10 C253.50,49.10 254.00,49.10 254.50,49.10 C255.00,49.10 255.50,49.10 256.00,49.10 C256.50,49.10 257.00,49.10 257.50,49.10 C258.00,49.10 258.50,49.10 259.00,49.10 C259.50,49.10 260.00,49.10 260.50,49.10 C261.00,49.10 261.50,49.09 262.00,49.09 C262.50,49.09 263.00,49.09 263.50,49.08 C264.00,49.08 264.50,49.08 265.00,49.07 C265.50,49.07 266.00,49.07 266.50,49.07 C267.00,49.07 267.50,49.07 268.00,49.07 C268.50,49.08 269.00,49.09 269.50,49.10 C270.00,49.11 270.50,49.12 271.00,49.14 C271.50,49.16 272.00,49.18 272.50,49.21 C273.00,49.23 273.50,49.26 274.00,49.29 C274.50,49.32 275.00,49.35 275.50,49.38 C276.00,49.40 276.50,49.43 277.00,49.46 C277.50,49.49 278.00,49.51 278.50,49.53 C279.00,49.56 279.50,49.58 280.00,49.59 C280.50,49.61 281.00,49.62 281.50,49.64 C282.00,49.65 282.50,49.66 283.00,49.67 C283.50,49.68 284.00,49.69 284.50,49.69 C285.00,49.70 285.50,49.71 286.00,49.71 C286.50,49.72 287.00,49.72 287.50,49.73 C288.00,49.73 288.50,49.74 289.00,49.74 C289.50,49.75 290.00,49.75 290.50,49.75 C291.00,49.76 291.50,49.76 292.00,49.77 C292.50,49.77 293.00,49.78 293.50,49.78 C294.00,49.79 294.50,49.79 295.00,49.80 C295.50,49.81 296.00,49.82 296.50,49.82 C297.00,49.83 297.50,49.84 298.00,49.85 C298.50,49.86 299.00,49.88 299.50,49.89 C300.00,49.90 300.50,49.92 301.00,49.94 C301.50,49.95 302.00,49.97 302.50,49.99 C303.00,50.01 303.50,50.03 304.00,50.05 C304.50,50.07 305.00,50.09 305.50,50.12 C306.00,50.14 306.50,50.16 307.00,50.19 C307.50,50.21 308.00,50.23 308.50,50.26 C309.00,50.28 309.50,50.31 310.00,50.33 C310.50,50.36 311.00,50.38 311.50,50.41 C312.00,50.43 312.50,50.46 313.00,50.48 C313.50,50.50 314.00,50.53 314.50,50.55 C315.00,50.57 315.50,50.59 316.00,50.62 C316.50,50.64 317.00,50.66 317.50,50.68 C318.00,50.70 318.50,50.72 319.00,50.74 C319.50,50.77 320.00,50.79 320.50,50.81 C321.00,50.83 321.50,50.85 322.00,50.87 C322.50,50.89 323.00,50.91 323.50,50.93 C324.00,50.95 324.50,50.97 325.00,50.99 C325.50,51.01 326.00,51.03 326.50,51.05 C327.00,51.07 327.50,51.08 328.00,51.10 C328.50,51.12 329.00,51.14 329.50,51.15 C330.00,51.17 330.50,51.18 331.00,51.20 C331.50,51.21 332.00,51.23 332.50,51.24 C333.00,51.26 333.50,51.27 334.00,51.29 C334.50,51.30 335.00,51.32 335.50,51.33 C336.00,51.35 336.50,51.36 337.00,51.38 C337.50,51.39 338.00,51.40 338.50,51.41 C339.00,51.43 339.50,51.44 340.00,51.45 C340.50,51.46 341.00,51.47 341.50,51.48 C342.00,51.48 342.50,51.49 343.00,51.49 C343.50,51.50 344.00,51.50 344.50,51.50 C345.00,51.50 345.50,51.50 346.00,51.50 C346.50,51.50 347.00,51.49 347.50,51.49 C348.00,51.48 348.50,51.47 349.00,51.46 C349.50,51.45 350.00,51.44 350.50,51.43 C351.00,51.41 351.50,51.40 352.00,51.38 C352.50,51.36 353.00,51.34 353.50,51.32 C354.00,51.30 354.50,51.27 355.00,51.24 C355.50,51.21 356.00,51.18 356.50,51.14 C357.00,51.10 357.50,51.06 358.00,51.01 C358.50,50.96 359.00,50.90 359.50,50.84 C360.00,50.77 360.50,50.70 361.00,50.62 C361.50,50.54 362.00,50.45 362.50,50.37 C363.00,50.29 363.50,50.20 364.00,50.12 C364.50,50.04 365.00,49.96 365.50,49.90 C366.00,49.83 366.50,49.77 367.00,49.71 C367.50,49.66 368.00,49.61 368.50,49.56 C369.00,49.51 369.50,49.47 370.00,49.42 C370.50,49.38 371.00,49.34 371.50,49.31 C372.00,49.27 372.50,49.24 373.00,49.21 C373.50,49.18 374.00,49.15 374.50,49.13 C375.00,49.10 375.50,49.08 376.00,49.06 C376.50,49.04 377.00,49.02 377.50,49.02 C378.00,49.02 378.50,49.03 379.00,49.06 C379.50,49.10 380.00,49.15 380.50,49.23 C381.00,49.31 381.50,49.41 382.00,49.54 C382.50,49.68 383.01,49.83 383.50,50.03 C384.01,50.23 384.51,50.47 385.00,50.75 C385.51,51.04 386.01,51.39 386.50,51.77 C387.01,52.16 387.51,52.61 388.00,53.06 C388.51,53.53 389.00,54.03 389.50,54.54 C390.01,55.05 390.50,55.59 391.00,56.13 C391.50,56.68 392.00,57.25 392.50,57.81 C393.00,58.37 393.50,58.94 394.00,59.50 C394.50,60.05 395.00,60.60 395.50,61.13 C396.00,61.65 396.50,62.17 397.00,62.68 C397.50,63.17 397.99,63.66 398.50,64.13 C399.00,64.59 399.49,65.03 400.00,65.46 C400.50,65.88 401.00,66.28 401.50,66.67 C402.00,67.05 402.50,67.42 403.00,67.76 C403.50,68.10 404.00,68.43 404.50,68.74 C405.00,69.05 405.50,69.34 406.00,69.61 C406.50,69.87 406.99,70.12 407.50,70.34 C408.00,70.56 408.50,70.76 409.00,70.92 C409.50,71.08 410.00,71.21 410.50,71.31 C411.00,71.41 411.50,71.48 412.00,71.50 C412.50,71.53 413.00,71.52 413.50,71.47 C414.00,71.42 414.50,71.33 415.00,71.22 C415.50,71.11 416.00,70.96 416.50,70.80 C417.00,70.64 417.50,70.45 418.00,70.25 C418.50,70.05 419.00,69.83 419.50,69.58 C420.00,69.33 420.50,69.06 421.00,68.77 C421.51,68.47 422.00,68.15 422.50,67.82 C423.00,67.48 423.50,67.12 424.00,66.75 C424.50,66.36 425.00,65.96 425.50,65.55 C426.00,65.13 426.50,64.69 427.00,64.25 C427.50,63.80 428.00,63.33 428.50,62.86 C429.00,62.40 429.50,61.92 430.00,61.45 C430.50,60.97 431.00,60.49 431.50,60.02 C432.00,59.54 432.50,59.05 433.00,58.57 C433.50,58.10 434.00,57.62 434.50,57.14 C435.00,56.68 435.50,56.21 436.00,55.76 C436.50,55.31 437.00,54.87 437.50,54.44 C438.00,54.01 438.50,53.59 439.00,53.19 C439.50,52.80 439.99,52.41 440.50,52.05 C440.99,51.71 441.49,51.38 442.00,51.08 C442.49,50.79 442.99,50.53 443.50,50.28 C444.00,50.05 444.50,49.83 445.00,49.64 C445.50,49.45 446.00,49.29 446.50,49.14 C447.00,49.00 447.50,48.88 448.00,48.78 C448.50,48.68 449.00,48.61 449.50,48.55 C450.00,48.50 450.50,48.46 451.00,48.43 C451.50,48.40 452.00,48.38 452.50,48.36 C453.00,48.34 453.50,48.33 454.00,48.31 C454.50,48.30 455.00,48.28 455.50,48.27 C456.00,48.25 456.50,48.24 457.00,48.23 C457.50,48.22 458.00,48.22 458.50,48.21 C459.00,48.21 459.50,48.20 460.00,48.20 C460.50,48.20 461.00,48.20 461.50,48.20 C462.00,48.20 462.50,48.20 463.00,48.20 C463.50,48.20 464.00,48.20 464.50,48.20 C465.00,48.20 465.50,48.21 466.00,48.21 C466.50,48.21 467.00,48.22 467.50,48.22 C468.00,48.22 468.50,48.23 469.00,48.23 C469.50,48.23 470.00,48.24 470.50,48.24 C471.00,48.24 471.50,48.25 472.00,48.25 C472.50,48.25 473.00,48.26 473.50,48.26 C474.00,48.27 474.50,48.27 475.00,48.27 C475.50,48.28 476.00,48.28 476.50,48.28 C477.00,48.29 477.55,48.29 478.00,48.29 C478.37,48.30 478.67,48.30 479.00,48.30" fill="none" stroke="#0070C0" stroke-width="3.1" stroke-linejoin="round" stroke-linecap="round"/>
</g>
<text transform="translate(25.77,51.65) scale(1.058,1.000)" class="t">0.009</text>
<text transform="translate(25.77,77.53) scale(1.058,1.000)" class="t">0.008</text>
<text transform="translate(25.77,103.42) scale(1.058,1.000)" class="t">0.007</text>
<text transform="translate(25.77,129.30) scale(1.058,1.000)" class="t">0.006</text>
<text transform="translate(25.77,155.18) scale(1.058,1.000)" class="t">0.005</text>
<text transform="translate(25.77,181.07) scale(1.058,1.000)" class="t">0.004</text>
<text transform="translate(25.77,206.95) scale(1.058,1.000)" class="t">0.003</text>
<text transform="translate(25.77,232.83) scale(1.058,1.000)" class="t">0.002</text>
<text transform="translate(25.77,258.72) scale(1.058,1.000)" class="t">0.001</text>
<text transform="translate(50.60,284.60) scale(1.058,1.000)" class="t">0</text>
<text transform="translate(491.40,51.55) scale(1.064,1.000)" class="t">10</text>
<line x1="479" y1="47.65" x2="483.6" y2="47.65" stroke="#000" stroke-width="1.6"/>
<text transform="translate(491.50,74.84) scale(1.080,1.000)" class="t">9.99</text>
<line x1="479" y1="70.94" x2="483.6" y2="70.94" stroke="#000" stroke-width="1.6"/>
<text transform="translate(491.50,98.14) scale(1.080,1.000)" class="t">9.98</text>
<line x1="479" y1="94.24" x2="483.6" y2="94.24" stroke="#000" stroke-width="1.6"/>
<text transform="translate(491.50,121.44) scale(1.080,1.000)" class="t">9.97</text>
<line x1="479" y1="117.53" x2="483.6" y2="117.53" stroke="#000" stroke-width="1.6"/>
<text transform="translate(491.50,144.73) scale(1.080,1.000)" class="t">9.96</text>
<line x1="479" y1="140.83" x2="483.6" y2="140.83" stroke="#000" stroke-width="1.6"/>
<text transform="translate(491.50,168.03) scale(1.080,1.000)" class="t">9.95</text>
<line x1="479" y1="164.12" x2="483.6" y2="164.12" stroke="#000" stroke-width="1.6"/>
<text transform="translate(491.50,191.32) scale(1.080,1.000)" class="t">9.94</text>
<line x1="479" y1="187.42" x2="483.6" y2="187.42" stroke="#000" stroke-width="1.6"/>
<text transform="translate(491.50,214.62) scale(1.080,1.000)" class="t">9.93</text>
<line x1="479" y1="210.72" x2="483.6" y2="210.72" stroke="#000" stroke-width="1.6"/>
<text transform="translate(491.50,237.91) scale(1.080,1.000)" class="t">9.92</text>
<line x1="479" y1="234.01" x2="483.6" y2="234.01" stroke="#000" stroke-width="1.6"/>
<text transform="translate(491.50,261.20) scale(1.080,1.000)" class="t">9.91</text>
<line x1="479" y1="257.31" x2="483.6" y2="257.31" stroke="#000" stroke-width="1.6"/>
<text transform="translate(491.50,284.50) scale(1.115,1.000)" class="t">9.9</text>
<line x1="479" y1="280.60" x2="483.6" y2="280.60" stroke="#000" stroke-width="1.6"/>
<text transform="translate(62.51,297.90) scale(1.046,1.000)" class="t">25</text>
<text transform="translate(123.53,297.90) scale(1.046,1.000)" class="t">26</text>
<text transform="translate(184.55,297.90) scale(1.046,1.000)" class="t">28</text>
<text transform="translate(245.57,297.90) scale(1.046,1.000)" class="t">30</text>
<text transform="translate(306.59,297.90) scale(1.046,1.000)" class="t">31</text>
<text transform="translate(367.61,297.90) scale(1.046,1.000)" class="t">33</text>
<text transform="translate(428.63,297.90) scale(1.046,1.000)" class="t">34</text>
<text transform="translate(221.77,321.35) scale(0.961,1.000)" class="ti">Frequency (GHz)</text>
<text transform="translate(16.66,174.98) rotate(-90) scale(0.789,1)" class="ti">ECC</text>
<text transform="translate(536.15,224.03) rotate(-90) scale(0.969,1)" class="ti">Diversity Gain (dB)</text>
<line x1="101.2" y1="17.35" x2="131.3" y2="17.35" stroke="#FF0000" stroke-width="3" stroke-linecap="round"/>
<line x1="193.8" y1="17.35" x2="223.7" y2="17.35" stroke="#000000" stroke-width="3" stroke-linecap="round"/>
<line x1="286.2" y1="17.35" x2="316.1" y2="17.35" stroke="#00B050" stroke-width="3" stroke-linecap="round"/>
<line x1="374.7" y1="17.35" x2="404.5" y2="17.35" stroke="#0070C0" stroke-width="3" stroke-linecap="round"/>
<text transform="translate(134.80,20.80) scale(0.950,1.000)" class="lg">ECC 1,2</text>
<text transform="translate(227.20,20.80) scale(0.952,1.000)" class="lg">ECC 1,3</text>
<text transform="translate(319.35,20.80) scale(1.042,1.000)" class="lg">DG 1,2</text>
<text transform="translate(407.94,20.80) scale(1.046,1.000)" class="lg">DG 1,3</text>

</svg>
</body></html>
